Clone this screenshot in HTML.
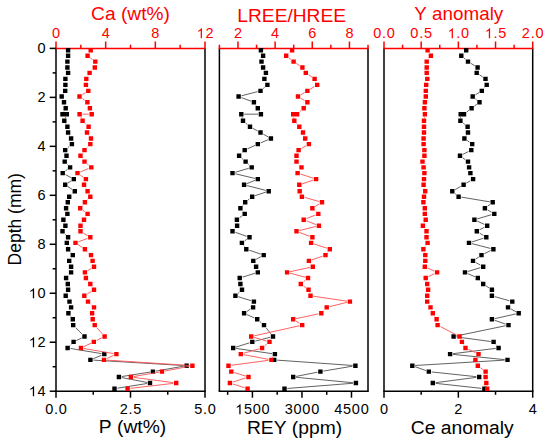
<!DOCTYPE html>
<html><head><meta charset="utf-8"><style>
html,body{margin:0;padding:0;background:#fff;width:550px;height:446px;overflow:hidden;}
svg{display:block;font-family:"Liberation Sans", sans-serif;}
</style></head><body>
<svg width="550" height="446" viewBox="0 0 550 446" font-family="Liberation Sans, sans-serif">
<rect width="550" height="446" fill="#ffffff"/>
<line x1="56.0" y1="48.4" x2="56.0" y2="391.2" stroke="#000000" stroke-width="1.5"/>
<line x1="205.0" y1="48.4" x2="205.0" y2="391.2" stroke="#000000" stroke-width="1.5"/>
<line x1="55.25" y1="391.2" x2="205.75" y2="391.2" stroke="#000000" stroke-width="1.5"/>
<line x1="55.25" y1="48.4" x2="205.75" y2="48.4" stroke="#ff0000" stroke-width="1.5"/>
<line x1="56.00" y1="48.4" x2="56.00" y2="41.5" stroke="#ff0000" stroke-width="1.5"/>
<line x1="80.83" y1="48.4" x2="80.83" y2="44.699999999999996" stroke="#ff0000" stroke-width="1.5"/>
<line x1="105.67" y1="48.4" x2="105.67" y2="41.5" stroke="#ff0000" stroke-width="1.5"/>
<line x1="130.50" y1="48.4" x2="130.50" y2="44.699999999999996" stroke="#ff0000" stroke-width="1.5"/>
<line x1="155.33" y1="48.4" x2="155.33" y2="41.5" stroke="#ff0000" stroke-width="1.5"/>
<line x1="180.17" y1="48.4" x2="180.17" y2="44.699999999999996" stroke="#ff0000" stroke-width="1.5"/>
<line x1="205.00" y1="48.4" x2="205.00" y2="41.5" stroke="#ff0000" stroke-width="1.5"/>
<line x1="56.00" y1="391.2" x2="56.00" y2="397.7" stroke="#000000" stroke-width="1.5"/>
<line x1="93.25" y1="391.2" x2="93.25" y2="394.8" stroke="#000000" stroke-width="1.5"/>
<line x1="130.50" y1="391.2" x2="130.50" y2="397.7" stroke="#000000" stroke-width="1.5"/>
<line x1="167.75" y1="391.2" x2="167.75" y2="394.8" stroke="#000000" stroke-width="1.5"/>
<line x1="205.00" y1="391.2" x2="205.00" y2="397.7" stroke="#000000" stroke-width="1.5"/>
<text x="51.97" y="38.30" font-size="14.5" fill="#ff0000" >0</text>
<text x="101.63" y="38.30" font-size="14.5" fill="#ff0000" >4</text>
<text x="151.30" y="38.30" font-size="14.5" fill="#ff0000" >8</text>
<path transform="translate(196.56,38.30) scale(0.00708,-0.00680)" d="M763 0L583 0L583 1147Q518 1085 413 1023Q308 961 224 930L224 1104Q375 1175 488 1276Q601 1377 648 1466L763 1466Z" fill="#ff0000"/>
<text x="205.38" y="38.30" font-size="14.5" fill="#ff0000" >2</text>
<text x="45.17 53.99 58.76" y="414.20" font-size="14.5" fill="#000000" >0.0</text>
<text x="119.67 128.49 133.26" y="414.20" font-size="14.5" fill="#000000" >2.5</text>
<text x="194.17 202.99 207.76" y="414.20" font-size="14.5" fill="#000000" >5.0</text>
<text transform="scale(1.065,1)" x="85.53 98.53 113.54 119.54 132.54 137.54 153.54" y="20.20" font-size="18" fill="#ff0000" >Ca(wt%)</text>
<text transform="scale(1.07,1)" x="92.33 109.34 115.33 128.33 133.33 149.34" y="432.60" font-size="18" fill="#000000" >P(wt%)</text>
<line x1="56.0" y1="48.40" x2="49.7" y2="48.40" stroke="#000000" stroke-width="1.5"/>
<text x="37.54" y="53.40" font-size="14.5" fill="#000000" >0</text>
<line x1="56.0" y1="72.89" x2="52.6" y2="72.89" stroke="#000000" stroke-width="1.5"/>
<line x1="56.0" y1="97.37" x2="49.7" y2="97.37" stroke="#000000" stroke-width="1.5"/>
<text x="37.54" y="102.37" font-size="14.5" fill="#000000" >2</text>
<line x1="56.0" y1="121.86" x2="52.6" y2="121.86" stroke="#000000" stroke-width="1.5"/>
<line x1="56.0" y1="146.34" x2="49.7" y2="146.34" stroke="#000000" stroke-width="1.5"/>
<text x="37.54" y="151.34" font-size="14.5" fill="#000000" >4</text>
<line x1="56.0" y1="170.83" x2="52.6" y2="170.83" stroke="#000000" stroke-width="1.5"/>
<line x1="56.0" y1="195.31" x2="49.7" y2="195.31" stroke="#000000" stroke-width="1.5"/>
<text x="37.54" y="200.31" font-size="14.5" fill="#000000" >6</text>
<line x1="56.0" y1="219.80" x2="52.6" y2="219.80" stroke="#000000" stroke-width="1.5"/>
<line x1="56.0" y1="244.29" x2="49.7" y2="244.29" stroke="#000000" stroke-width="1.5"/>
<text x="37.54" y="249.29" font-size="14.5" fill="#000000" >8</text>
<line x1="56.0" y1="268.77" x2="52.6" y2="268.77" stroke="#000000" stroke-width="1.5"/>
<line x1="56.0" y1="293.26" x2="49.7" y2="293.26" stroke="#000000" stroke-width="1.5"/>
<path transform="translate(28.72,298.26) scale(0.00708,-0.00680)" d="M763 0L583 0L583 1147Q518 1085 413 1023Q308 961 224 930L224 1104Q375 1175 488 1276Q601 1377 648 1466L763 1466Z" fill="#000000"/>
<text x="37.54" y="298.26" font-size="14.5" fill="#000000" >0</text>
<line x1="56.0" y1="317.74" x2="52.6" y2="317.74" stroke="#000000" stroke-width="1.5"/>
<line x1="56.0" y1="342.23" x2="49.7" y2="342.23" stroke="#000000" stroke-width="1.5"/>
<path transform="translate(28.72,347.23) scale(0.00708,-0.00680)" d="M763 0L583 0L583 1147Q518 1085 413 1023Q308 961 224 930L224 1104Q375 1175 488 1276Q601 1377 648 1466L763 1466Z" fill="#000000"/>
<text x="37.54" y="347.23" font-size="14.5" fill="#000000" >2</text>
<line x1="56.0" y1="366.71" x2="52.6" y2="366.71" stroke="#000000" stroke-width="1.5"/>
<line x1="56.0" y1="391.20" x2="49.7" y2="391.20" stroke="#000000" stroke-width="1.5"/>
<path transform="translate(28.72,396.20) scale(0.00708,-0.00680)" d="M763 0L583 0L583 1147Q518 1085 413 1023Q308 961 224 930L224 1104Q375 1175 488 1276Q601 1377 648 1466L763 1466Z" fill="#000000"/>
<text x="37.54" y="396.20" font-size="14.5" fill="#000000" >4</text>
<text transform="translate(21.2,219.3) rotate(-90) scale(1,1.07)" text-anchor="middle" font-size="17.5" fill="#000000">Depth (mm)</text>
<line x1="219.4" y1="48.4" x2="219.4" y2="391.2" stroke="#000000" stroke-width="1.5"/>
<line x1="368.0" y1="48.4" x2="368.0" y2="391.2" stroke="#000000" stroke-width="1.5"/>
<line x1="218.65" y1="391.2" x2="368.75" y2="391.2" stroke="#000000" stroke-width="1.5"/>
<line x1="218.65" y1="48.4" x2="368.75" y2="48.4" stroke="#ff0000" stroke-width="1.5"/>
<line x1="219.40" y1="48.4" x2="219.40" y2="44.699999999999996" stroke="#ff0000" stroke-width="1.5"/>
<line x1="237.97" y1="48.4" x2="237.97" y2="41.5" stroke="#ff0000" stroke-width="1.5"/>
<line x1="256.55" y1="48.4" x2="256.55" y2="44.699999999999996" stroke="#ff0000" stroke-width="1.5"/>
<line x1="275.12" y1="48.4" x2="275.12" y2="41.5" stroke="#ff0000" stroke-width="1.5"/>
<line x1="293.70" y1="48.4" x2="293.70" y2="44.699999999999996" stroke="#ff0000" stroke-width="1.5"/>
<line x1="312.27" y1="48.4" x2="312.27" y2="41.5" stroke="#ff0000" stroke-width="1.5"/>
<line x1="330.85" y1="48.4" x2="330.85" y2="44.699999999999996" stroke="#ff0000" stroke-width="1.5"/>
<line x1="349.43" y1="48.4" x2="349.43" y2="41.5" stroke="#ff0000" stroke-width="1.5"/>
<line x1="368.00" y1="48.4" x2="368.00" y2="44.699999999999996" stroke="#ff0000" stroke-width="1.5"/>
<line x1="227.66" y1="391.2" x2="227.66" y2="394.8" stroke="#000000" stroke-width="1.5"/>
<line x1="252.42" y1="391.2" x2="252.42" y2="397.7" stroke="#000000" stroke-width="1.5"/>
<line x1="277.19" y1="391.2" x2="277.19" y2="394.8" stroke="#000000" stroke-width="1.5"/>
<line x1="301.96" y1="391.2" x2="301.96" y2="397.7" stroke="#000000" stroke-width="1.5"/>
<line x1="326.72" y1="391.2" x2="326.72" y2="394.8" stroke="#000000" stroke-width="1.5"/>
<line x1="351.49" y1="391.2" x2="351.49" y2="397.7" stroke="#000000" stroke-width="1.5"/>
<text x="233.94" y="38.30" font-size="14.5" fill="#ff0000" >2</text>
<text x="271.09" y="38.30" font-size="14.5" fill="#ff0000" >4</text>
<text x="308.24" y="38.30" font-size="14.5" fill="#ff0000" >6</text>
<text x="345.39" y="38.30" font-size="14.5" fill="#ff0000" >8</text>
<path transform="translate(235.17,414.20) scale(0.00708,-0.00680)" d="M763 0L583 0L583 1147Q518 1085 413 1023Q308 961 224 930L224 1104Q375 1175 488 1276Q601 1377 648 1466L763 1466Z" fill="#000000"/>
<text x="243.98 252.80 261.61" y="414.20" font-size="14.5" fill="#000000" >500</text>
<text x="284.70 293.52 302.33 311.14" y="414.20" font-size="14.5" fill="#000000" >3000</text>
<text x="334.24 343.05 351.86 360.68" y="414.20" font-size="14.5" fill="#000000" >4500</text>
<text transform="scale(1.065,1)" x="222.88 232.89 245.89 257.90 269.90 274.90 287.90 300.90 312.91" y="21.80" font-size="18" fill="#ff0000" >LREE/HREE</text>
<text transform="scale(1.07,1)" x="230.73 243.72 255.73 272.74 278.73 288.74 298.75 313.75" y="434.00" font-size="18" fill="#000000" >REY(ppm)</text>
<line x1="384.0" y1="48.4" x2="384.0" y2="391.2" stroke="#000000" stroke-width="1.5"/>
<line x1="532.7" y1="48.4" x2="532.7" y2="391.2" stroke="#000000" stroke-width="1.5"/>
<line x1="383.25" y1="391.2" x2="533.45" y2="391.2" stroke="#000000" stroke-width="1.5"/>
<line x1="383.25" y1="48.4" x2="533.45" y2="48.4" stroke="#ff0000" stroke-width="1.5"/>
<line x1="384.00" y1="48.4" x2="384.00" y2="41.5" stroke="#ff0000" stroke-width="1.5"/>
<line x1="402.59" y1="48.4" x2="402.59" y2="44.699999999999996" stroke="#ff0000" stroke-width="1.5"/>
<line x1="421.18" y1="48.4" x2="421.18" y2="41.5" stroke="#ff0000" stroke-width="1.5"/>
<line x1="439.76" y1="48.4" x2="439.76" y2="44.699999999999996" stroke="#ff0000" stroke-width="1.5"/>
<line x1="458.35" y1="48.4" x2="458.35" y2="41.5" stroke="#ff0000" stroke-width="1.5"/>
<line x1="476.94" y1="48.4" x2="476.94" y2="44.699999999999996" stroke="#ff0000" stroke-width="1.5"/>
<line x1="495.53" y1="48.4" x2="495.53" y2="41.5" stroke="#ff0000" stroke-width="1.5"/>
<line x1="514.11" y1="48.4" x2="514.11" y2="44.699999999999996" stroke="#ff0000" stroke-width="1.5"/>
<line x1="532.70" y1="48.4" x2="532.70" y2="41.5" stroke="#ff0000" stroke-width="1.5"/>
<line x1="384.00" y1="391.2" x2="384.00" y2="397.7" stroke="#000000" stroke-width="1.5"/>
<line x1="421.18" y1="391.2" x2="421.18" y2="394.8" stroke="#000000" stroke-width="1.5"/>
<line x1="458.35" y1="391.2" x2="458.35" y2="397.7" stroke="#000000" stroke-width="1.5"/>
<line x1="495.53" y1="391.2" x2="495.53" y2="394.8" stroke="#000000" stroke-width="1.5"/>
<line x1="532.70" y1="391.2" x2="532.70" y2="397.7" stroke="#000000" stroke-width="1.5"/>
<text x="373.17 381.99 386.76" y="38.30" font-size="14.5" fill="#ff0000" >0.0</text>
<text x="410.35 419.16 423.94" y="38.30" font-size="14.5" fill="#ff0000" >0.5</text>
<path transform="translate(447.52,38.30) scale(0.00708,-0.00680)" d="M763 0L583 0L583 1147Q518 1085 413 1023Q308 961 224 930L224 1104Q375 1175 488 1276Q601 1377 648 1466L763 1466Z" fill="#ff0000"/>
<text x="456.34 461.11" y="38.30" font-size="14.5" fill="#ff0000" >.0</text>
<path transform="translate(484.70,38.30) scale(0.00708,-0.00680)" d="M763 0L583 0L583 1147Q518 1085 413 1023Q308 961 224 930L224 1104Q375 1175 488 1276Q601 1377 648 1466L763 1466Z" fill="#ff0000"/>
<text x="493.51 498.29" y="38.30" font-size="14.5" fill="#ff0000" >.5</text>
<text x="521.87 530.69 535.46" y="38.30" font-size="14.5" fill="#ff0000" >2.0</text>
<text x="379.97" y="414.20" font-size="14.5" fill="#000000" >0</text>
<text x="454.32" y="414.20" font-size="14.5" fill="#000000" >2</text>
<text x="528.67" y="414.20" font-size="14.5" fill="#000000" >4</text>
<text transform="scale(1.045,1)" x="396.52 413.53 423.54 433.55 443.56 458.55 468.57 472.56" y="20.00" font-size="18" fill="#ff0000" >Yanomaly</text>
<text transform="scale(1.07,1)" x="383.94 396.94 411.95 421.96 431.97 441.98 456.98 466.99 470.99" y="434.20" font-size="18" fill="#000000" >Ceanomaly</text>
<path d="M67.75 58.63L67.75 58.70M67.40 64.50L67.40 64.60M66.83 75.71L66.67 76.06M65.40 81.80L65.40 82.00M65.30 87.80L65.30 87.97M63.47 93.66L63.43 93.74M62.85 99.38L62.85 99.38M64.81 105.11L64.89 105.36M64.18 111.05L64.02 111.35M65.71 117.02L65.39 117.88M65.74 123.56L65.96 124.01M69.51 135.33L69.69 135.67M69.18 146.56L67.92 147.68M65.61 158.70L65.59 158.76M67.24 164.34L67.56 164.69M67.35 169.52L65.45 170.98M65.52 174.63L70.98 177.60M71.02 180.98L67.98 182.99M67.98 186.67L72.02 189.33M72.10 193.82L71.90 194.02M66.98 205.21L66.92 205.39M65.51 216.65L65.29 216.95M64.35 222.60L64.45 222.87M65.02 234.01L65.58 234.62M67.40 245.79L67.50 246.28M70.27 251.92L70.63 252.38M71.06 257.93L70.94 258.11M70.13 263.77L70.17 263.87M68.67 275.12L68.53 275.28M66.92 280.87L66.98 281.09M67.95 286.87L67.95 286.93M66.95 292.68L66.85 292.95M67.52 298.59L67.68 298.81M70.30 304.47L70.30 304.49M69.80 310.20L69.70 310.43M70.42 316.03L70.78 316.53M73.00 322.20L73.00 322.23M75.87 327.83L81.83 333.84M81.67 337.93L76.43 340.51M70.95 344.60L70.25 345.30M70.49 348.48L101.41 353.59M101.46 355.27L93.24 358.73M93.30 360.11L183.70 365.49M183.71 366.18L155.79 371.12M150.01 372.09L121.79 376.54M121.79 377.56L147.11 382.47M147.11 383.49L117.39 388.21" fill="none" stroke="#505050" stroke-width="0.9"/>
<path d="M65.9 48.0h4.4v4.4h-4.4zM65.9 53.5h4.4v4.4h-4.4zM65.2 59.4h4.4v4.4h-4.4zM65.2 65.3h4.4v4.4h-4.4zM65.9 70.7h4.4v4.4h-4.4zM63.2 76.7h4.4v4.4h-4.4zM63.2 82.7h4.4v4.4h-4.4zM63.0 88.7h4.4v4.4h-4.4zM59.5 94.3h4.4v4.4h-4.4zM61.8 100.0h4.4v4.4h-4.4zM63.5 106.0h4.4v4.4h-4.4zM60.3 112.0h4.4v4.4h-4.4zM64.6 112.0h4.4v4.4h-4.4zM62.1 118.5h4.4v4.4h-4.4zM65.2 124.6h4.4v4.4h-4.4zM65.9 130.3h4.4v4.4h-4.4zM68.9 136.3h4.4v4.4h-4.4zM69.7 141.9h4.4v4.4h-4.4zM63.0 147.9h4.4v4.4h-4.4zM64.3 153.6h4.4v4.4h-4.4zM62.5 159.4h4.4v4.4h-4.4zM67.9 165.2h4.4v4.4h-4.4zM60.5 170.9h4.4v4.4h-4.4zM71.6 176.9h4.4v4.4h-4.4zM63.0 182.6h4.4v4.4h-4.4zM72.6 189.0h4.4v4.4h-4.4zM67.0 194.5h4.4v4.4h-4.4zM65.6 200.1h4.4v4.4h-4.4zM63.9 206.1h4.4v4.4h-4.4zM65.2 211.7h4.4v4.4h-4.4zM61.2 217.5h4.4v4.4h-4.4zM63.2 223.5h4.4v4.4h-4.4zM60.3 229.1h4.4v4.4h-4.4zM65.9 235.1h4.4v4.4h-4.4zM64.6 240.7h4.4v4.4h-4.4zM65.9 247.0h4.4v4.4h-4.4zM70.6 252.9h4.4v4.4h-4.4zM67.0 258.7h4.4v4.4h-4.4zM68.9 264.5h4.4v4.4h-4.4zM68.9 270.2h4.4v4.4h-4.4zM63.9 275.8h4.4v4.4h-4.4zM65.6 281.8h4.4v4.4h-4.4zM65.9 287.6h4.4v4.4h-4.4zM63.5 293.6h4.4v4.4h-4.4zM67.3 299.4h4.4v4.4h-4.4zM68.9 305.2h4.4v4.4h-4.4zM66.2 311.1h4.4v4.4h-4.4zM70.6 317.1h4.4v4.4h-4.4zM71.0 322.9h4.4v4.4h-4.4zM82.3 334.3h4.4v4.4h-4.4zM71.4 339.7h4.4v4.4h-4.4zM65.4 345.8h4.4v4.4h-4.4zM102.1 351.9h4.4v4.4h-4.4zM88.2 357.7h4.4v4.4h-4.4zM184.4 363.5h4.4v4.4h-4.4zM150.7 369.4h4.4v4.4h-4.4zM116.7 374.8h4.4v4.4h-4.4zM147.8 380.8h4.4v4.4h-4.4zM112.3 386.5h4.4v4.4h-4.4z" fill="#000000"/>
<path d="M90.36 57.83L92.54 59.50M95.05 64.50L95.05 64.60M88.06 75.68L87.84 76.09M86.11 81.80L86.09 82.00M87.05 87.75L87.15 88.02M85.51 92.66L82.29 94.74M82.27 98.53L84.63 100.24M88.59 105.08L88.71 105.39M90.77 111.10L90.83 111.30M88.80 114.17L82.50 114.17M80.90 117.00L81.30 117.90M85.25 123.43L85.95 124.13M88.85 135.28L89.15 135.72M87.67 146.84L87.13 147.40M82.56 152.87L82.44 153.06M82.41 158.61L82.59 158.86M87.23 163.95L88.57 165.08M88.45 168.58L80.35 171.92M80.27 175.09L83.13 177.14M85.60 187.64L86.00 188.36M87.72 199.37L87.48 199.63M82.72 205.08L82.38 205.52M82.96 210.35L84.84 211.78M85.88 216.66L85.72 216.94M82.36 222.54L82.14 222.93M83.30 233.02L87.50 235.61M87.44 238.41L78.36 241.83M78.28 244.75L82.12 247.31M87.60 251.81L88.30 252.49M91.80 258.01L91.80 258.03M93.29 263.78L93.31 263.85M91.21 268.47L87.69 270.66M87.94 280.76L88.26 281.20M92.06 286.76L92.24 287.04M91.20 291.55L87.10 294.08M86.08 298.59L86.22 298.81M90.70 304.20L91.30 304.77M93.08 310.23L93.02 310.40M92.39 316.16L92.41 316.40M93.68 322.16L93.72 322.27M97.07 327.86L102.23 333.80M101.77 337.94L96.63 340.50M90.97 343.25L83.83 346.65M83.89 348.50L113.51 353.57M113.57 355.41L106.83 358.59M106.90 360.12L189.50 365.48M189.51 366.23L164.89 371.07M159.11 372.13L133.79 376.50M133.79 377.39L173.31 382.65M173.30 383.37L130.50 388.33" fill="none" stroke="#ff5050" stroke-width="0.9"/>
<path d="M88.5 48.0h4.4v4.4h-4.4zM85.4 53.5h4.4v4.4h-4.4zM93.1 59.4h4.4v4.4h-4.4zM92.6 65.3h4.4v4.4h-4.4zM87.4 70.7h4.4v4.4h-4.4zM84.1 76.7h4.4v4.4h-4.4zM83.7 82.7h4.4v4.4h-4.4zM86.1 88.7h4.4v4.4h-4.4zM77.3 94.3h4.4v4.4h-4.4zM85.2 100.0h4.4v4.4h-4.4zM87.7 106.0h4.4v4.4h-4.4zM89.5 112.0h4.4v4.4h-4.4zM77.4 112.0h4.4v4.4h-4.4zM80.4 118.5h4.4v4.4h-4.4zM86.4 124.6h4.4v4.4h-4.4zM84.8 130.3h4.4v4.4h-4.4zM88.8 136.3h4.4v4.4h-4.4zM88.1 141.9h4.4v4.4h-4.4zM82.3 147.9h4.4v4.4h-4.4zM78.3 153.6h4.4v4.4h-4.4zM82.3 159.4h4.4v4.4h-4.4zM89.1 165.2h4.4v4.4h-4.4zM75.3 170.9h4.4v4.4h-4.4zM83.7 176.9h4.4v4.4h-4.4zM81.8 182.6h4.4v4.4h-4.4zM85.4 189.0h4.4v4.4h-4.4zM88.1 194.5h4.4v4.4h-4.4zM82.7 200.1h4.4v4.4h-4.4zM78.0 206.1h4.4v4.4h-4.4zM85.4 211.7h4.4v4.4h-4.4zM81.8 217.5h4.4v4.4h-4.4zM78.3 223.5h4.4v4.4h-4.4zM78.3 229.1h4.4v4.4h-4.4zM88.1 235.1h4.4v4.4h-4.4zM73.3 240.7h4.4v4.4h-4.4zM82.7 247.0h4.4v4.4h-4.4zM88.8 252.9h4.4v4.4h-4.4zM90.4 258.7h4.4v4.4h-4.4zM91.8 264.5h4.4v4.4h-4.4zM82.7 270.2h4.4v4.4h-4.4zM83.7 275.8h4.4v4.4h-4.4zM88.1 281.8h4.4v4.4h-4.4zM91.8 287.6h4.4v4.4h-4.4zM82.1 293.6h4.4v4.4h-4.4zM85.8 299.4h4.4v4.4h-4.4zM91.8 305.2h4.4v4.4h-4.4zM89.9 311.1h4.4v4.4h-4.4zM90.5 317.1h4.4v4.4h-4.4zM92.5 322.9h4.4v4.4h-4.4zM102.4 334.3h4.4v4.4h-4.4zM91.6 339.7h4.4v4.4h-4.4zM78.8 345.8h4.4v4.4h-4.4zM114.2 351.9h4.4v4.4h-4.4zM101.8 357.7h4.4v4.4h-4.4zM190.2 363.5h4.4v4.4h-4.4zM159.8 369.4h4.4v4.4h-4.4zM128.7 374.8h4.4v4.4h-4.4zM174.0 380.8h4.4v4.4h-4.4zM125.4 386.5h4.4v4.4h-4.4z" fill="#ff0000"/>
<path d="M262.32 58.61L262.28 58.72M262.28 64.48L262.32 64.62M265.18 75.75L265.12 76.02M265.81 81.73L265.99 82.07M264.67 87.26L263.23 88.51M257.62 91.61L241.48 95.79M241.46 97.60L251.04 101.17M255.71 105.02L255.99 105.45M259.27 111.05L259.43 111.35M258.00 114.17L244.20 114.17M242.04 117.04L242.26 117.86M245.73 123.11L247.27 124.46M252.82 128.35L257.68 130.98M263.31 134.12L268.09 136.88M268.06 139.72L260.64 142.91M254.96 145.43L247.54 148.81M242.06 152.80L241.74 153.13M241.82 158.26L242.88 159.20M248.31 164.19L248.99 164.84M248.83 168.25L235.37 172.25M235.38 173.79L254.92 178.45M254.95 180.32L246.95 183.65M246.98 185.57L265.82 190.43M265.84 192.12L255.06 195.71M249.46 198.89L247.94 200.11M242.98 205.08L242.62 205.52M242.52 211.02L242.58 211.11M241.94 215.94L239.66 217.66M237.00 222.63L237.00 222.83M234.84 228.47L234.76 228.56M235.36 232.31L246.64 236.32M246.74 239.36L244.66 240.87M243.85 245.67L244.35 246.39M249.16 250.15L260.84 254.15M260.89 256.69L256.11 259.34M254.66 263.73L254.74 263.90M254.93 273.29L242.57 277.11M240.04 280.90L240.06 281.07M241.18 286.84L241.22 286.96M239.28 292.29L238.12 293.34M238.27 296.70L251.03 300.70M250.31 309.19L246.89 311.44M246.94 314.57L254.36 317.99M259.93 321.64L261.27 322.79M266.17 327.88L270.83 333.78M270.12 337.28L255.18 341.15M249.43 342.82L236.07 347.08M236.09 348.42L272.01 353.65M274.55 356.96L274.55 357.04M277.10 360.14L352.50 365.46M352.51 366.16L323.29 371.14M317.51 372.20L296.09 376.43M296.10 377.28L353.00 382.75M353.00 383.26L287.40 388.44" fill="none" stroke="#505050" stroke-width="0.9"/>
<path d="M258.7 48.0h4.4v4.4h-4.4zM260.9 53.5h4.4v4.4h-4.4zM259.3 59.4h4.4v4.4h-4.4zM260.9 65.3h4.4v4.4h-4.4zM263.7 70.7h4.4v4.4h-4.4zM262.2 76.7h4.4v4.4h-4.4zM265.2 82.7h4.4v4.4h-4.4zM258.3 88.7h4.4v4.4h-4.4zM236.4 94.3h4.4v4.4h-4.4zM251.7 100.0h4.4v4.4h-4.4zM255.6 106.0h4.4v4.4h-4.4zM258.7 112.0h4.4v4.4h-4.4zM239.1 112.0h4.4v4.4h-4.4zM240.8 118.5h4.4v4.4h-4.4zM247.8 124.6h4.4v4.4h-4.4zM258.3 130.3h4.4v4.4h-4.4zM268.7 136.3h4.4v4.4h-4.4zM255.6 141.9h4.4v4.4h-4.4zM242.5 147.9h4.4v4.4h-4.4zM236.9 153.6h4.4v4.4h-4.4zM243.4 159.4h4.4v4.4h-4.4zM249.5 165.2h4.4v4.4h-4.4zM230.3 170.9h4.4v4.4h-4.4zM255.6 176.9h4.4v4.4h-4.4zM241.9 182.6h4.4v4.4h-4.4zM266.5 189.0h4.4v4.4h-4.4zM250.0 194.5h4.4v4.4h-4.4zM243.0 200.1h4.4v4.4h-4.4zM238.2 206.1h4.4v4.4h-4.4zM242.5 211.7h4.4v4.4h-4.4zM234.7 217.5h4.4v4.4h-4.4zM234.9 223.5h4.4v4.4h-4.4zM230.3 229.1h4.4v4.4h-4.4zM247.3 235.1h4.4v4.4h-4.4zM239.7 240.7h4.4v4.4h-4.4zM244.1 247.0h4.4v4.4h-4.4zM261.5 252.9h4.4v4.4h-4.4zM251.1 258.7h4.4v4.4h-4.4zM253.9 264.5h4.4v4.4h-4.4zM255.6 270.2h4.4v4.4h-4.4zM237.5 275.8h4.4v4.4h-4.4zM238.2 281.8h4.4v4.4h-4.4zM239.8 287.6h4.4v4.4h-4.4zM233.2 293.6h4.4v4.4h-4.4zM251.7 299.4h4.4v4.4h-4.4zM250.9 305.2h4.4v4.4h-4.4zM241.9 311.1h4.4v4.4h-4.4zM255.0 317.1h4.4v4.4h-4.4zM261.8 322.9h4.4v4.4h-4.4zM270.8 334.3h4.4v4.4h-4.4zM250.1 339.7h4.4v4.4h-4.4zM231.0 345.8h4.4v4.4h-4.4zM272.7 351.9h4.4v4.4h-4.4zM272.0 357.7h4.4v4.4h-4.4zM353.2 363.5h4.4v4.4h-4.4zM318.2 369.4h4.4v4.4h-4.4zM291.0 374.8h4.4v4.4h-4.4zM353.7 380.8h4.4v4.4h-4.4zM282.3 386.5h4.4v4.4h-4.4z" fill="#000000"/>
<path d="M289.39 52.74L288.91 53.19M288.95 57.91L290.85 59.42M296.38 63.46L299.62 65.64M308.58 74.77L311.82 77.00M315.83 81.74L315.97 82.06M314.40 86.60L310.20 89.16M304.60 92.55L300.80 94.85M300.80 98.23L304.60 100.54M305.68 105.03L305.42 105.44M300.98 110.68L299.82 111.72M293.68 117.06L293.82 117.84M296.55 123.47L297.05 124.09M301.12 129.62L301.18 129.71M304.05 135.36L304.15 135.64M307.03 141.29L307.07 141.35M306.09 145.76L301.41 148.47M297.55 152.96L297.55 152.98M298.87 164.36L299.13 164.67M299.60 170.18L299.50 170.32M300.47 174.03L313.23 178.20M313.24 180.10L302.16 183.86M299.48 187.73L299.52 188.27M304.77 197.48L319.13 201.52M319.20 204.06L315.20 206.54M315.11 210.84L315.59 211.30M315.45 215.01L306.55 218.59M306.55 220.86L316.05 224.61M316.02 226.45L299.38 230.58M299.35 232.38L309.55 236.25M313.96 243.86L326.94 248.21M327.81 251.93L327.49 252.37M322.64 256.13L311.76 259.91M310.76 263.68L310.94 263.95M309.92 267.37L289.98 271.76M289.98 273.17L305.12 277.23M305.26 280.27L303.54 281.70M303.56 286.07L305.74 287.73M309.46 292.70L309.54 292.94M313.39 296.23L347.01 301.17M347.02 302.32L329.58 306.65M324.21 310.08L323.79 310.55M318.42 313.89L296.08 318.68M295.99 321.11L299.41 323.33M299.32 325.78L254.08 335.89M254.07 337.38L266.63 341.06M266.76 344.16L264.84 345.74M259.23 348.82L243.67 353.25M243.69 354.62L268.51 359.38M268.51 360.32L231.39 365.28M229.83 368.50L229.97 368.80M234.17 372.53L245.63 376.11M245.63 377.93L232.77 382.10M232.77 383.95L244.73 387.75" fill="none" stroke="#ff5050" stroke-width="0.9"/>
<path d="M289.9 48.0h4.4v4.4h-4.4zM284.0 53.5h4.4v4.4h-4.4zM291.4 59.4h4.4v4.4h-4.4zM300.2 65.3h4.4v4.4h-4.4zM303.6 70.7h4.4v4.4h-4.4zM312.4 76.7h4.4v4.4h-4.4zM315.0 82.7h4.4v4.4h-4.4zM305.2 88.7h4.4v4.4h-4.4zM295.8 94.3h4.4v4.4h-4.4zM305.2 100.0h4.4v4.4h-4.4zM301.5 106.0h4.4v4.4h-4.4zM294.9 112.0h4.4v4.4h-4.4zM291.0 112.0h4.4v4.4h-4.4zM292.1 118.5h4.4v4.4h-4.4zM297.1 124.6h4.4v4.4h-4.4zM300.8 130.3h4.4v4.4h-4.4zM303.0 136.3h4.4v4.4h-4.4zM306.7 141.9h4.4v4.4h-4.4zM296.4 147.9h4.4v4.4h-4.4zM294.3 153.6h4.4v4.4h-4.4zM294.3 159.4h4.4v4.4h-4.4zM299.3 165.2h4.4v4.4h-4.4zM295.4 170.9h4.4v4.4h-4.4zM313.9 176.9h4.4v4.4h-4.4zM297.1 182.6h4.4v4.4h-4.4zM297.5 189.0h4.4v4.4h-4.4zM299.7 194.5h4.4v4.4h-4.4zM319.8 200.1h4.4v4.4h-4.4zM310.2 206.1h4.4v4.4h-4.4zM316.1 211.7h4.4v4.4h-4.4zM301.5 217.5h4.4v4.4h-4.4zM316.7 223.5h4.4v4.4h-4.4zM294.3 229.1h4.4v4.4h-4.4zM310.2 235.1h4.4v4.4h-4.4zM308.9 240.7h4.4v4.4h-4.4zM327.6 247.0h4.4v4.4h-4.4zM323.3 252.9h4.4v4.4h-4.4zM306.7 258.7h4.4v4.4h-4.4zM310.6 264.5h4.4v4.4h-4.4zM284.9 270.2h4.4v4.4h-4.4zM305.8 275.8h4.4v4.4h-4.4zM298.6 281.8h4.4v4.4h-4.4zM306.3 287.6h4.4v4.4h-4.4zM308.3 293.6h4.4v4.4h-4.4zM347.7 299.4h4.4v4.4h-4.4zM324.5 305.2h4.4v4.4h-4.4zM319.1 311.1h4.4v4.4h-4.4zM291.0 317.1h4.4v4.4h-4.4zM300.0 322.9h4.4v4.4h-4.4zM249.0 334.3h4.4v4.4h-4.4zM267.3 339.7h4.4v4.4h-4.4zM259.9 345.8h4.4v4.4h-4.4zM238.6 351.9h4.4v4.4h-4.4zM269.2 357.7h4.4v4.4h-4.4zM226.3 363.5h4.4v4.4h-4.4zM229.1 369.4h4.4v4.4h-4.4zM246.3 374.8h4.4v4.4h-4.4zM227.7 380.8h4.4v4.4h-4.4zM245.4 386.5h4.4v4.4h-4.4z" fill="#ff0000"/>
<path d="M463.79 52.92L463.71 53.01M464.03 58.12L465.27 59.21M470.80 63.32L474.80 65.78M479.48 74.77L482.72 77.00M486.08 81.79L486.12 82.01M484.45 87.64L484.05 88.13M479.01 92.61L475.49 94.79M475.44 98.83L476.76 99.94M476.74 104.33L474.36 106.14M468.85 110.38L466.75 112.02M460.57 117.07L460.53 117.83M463.13 123.05L464.87 124.52M466.32 135.30L466.08 135.70M467.17 140.50L469.43 142.13M471.76 147.03L471.74 147.21M468.48 151.53L462.82 154.40M462.77 157.84L465.23 159.63M471.67 175.94L471.83 176.29M470.30 180.81L466.40 183.15M460.79 186.41L455.11 189.59M455.03 193.55L455.87 194.29M461.49 197.15L489.81 201.85M489.94 204.43L487.66 206.17M487.70 209.94L491.50 212.20M491.43 214.71L477.27 218.89M477.23 221.06L484.37 224.40M484.38 227.24L479.62 229.79M479.59 233.07L483.51 235.56M483.43 238.26L471.87 241.98M471.88 243.64L490.52 248.43M490.57 250.58L484.33 253.72M478.72 257.02L475.78 259.01M475.81 262.51L480.39 265.13M480.33 267.63L467.87 271.51M467.84 273.64L474.96 276.76M480.26 280.72L480.74 281.25M485.98 285.84L489.12 287.96M491.90 292.73L491.90 292.90M494.77 296.62L509.43 300.78M510.24 304.36L510.06 304.61M510.81 308.92L515.89 311.72M515.82 313.92L494.78 318.65M494.76 320.31L505.64 324.13M505.61 325.73L456.49 335.93M456.49 336.92L490.71 341.51M495.85 344.64L496.35 345.26M495.71 348.36L452.99 353.70M453.00 354.36L504.60 359.64M504.60 360.11L415.20 365.49M415.16 366.70L425.94 370.60M431.70 371.94L476.30 376.69M476.31 377.38L435.69 382.66M435.70 383.35L481.50 388.35" fill="none" stroke="#505050" stroke-width="0.9"/>
<path d="M464.0 48.0h4.4v4.4h-4.4zM459.1 53.5h4.4v4.4h-4.4zM465.8 59.4h4.4v4.4h-4.4zM475.4 65.3h4.4v4.4h-4.4zM474.5 70.7h4.4v4.4h-4.4zM483.3 76.7h4.4v4.4h-4.4zM484.5 82.7h4.4v4.4h-4.4zM479.6 88.7h4.4v4.4h-4.4zM470.5 94.3h4.4v4.4h-4.4zM477.3 100.0h4.4v4.4h-4.4zM469.4 106.0h4.4v4.4h-4.4zM461.8 112.0h4.4v4.4h-4.4zM458.5 112.0h4.4v4.4h-4.4zM458.2 118.5h4.4v4.4h-4.4zM465.4 124.6h4.4v4.4h-4.4zM465.8 130.3h4.4v4.4h-4.4zM462.2 136.3h4.4v4.4h-4.4zM470.0 141.9h4.4v4.4h-4.4zM469.1 147.9h4.4v4.4h-4.4zM457.8 153.6h4.4v4.4h-4.4zM465.8 159.4h4.4v4.4h-4.4zM466.9 165.2h4.4v4.4h-4.4zM468.2 170.9h4.4v4.4h-4.4zM470.9 176.9h4.4v4.4h-4.4zM461.4 182.6h4.4v4.4h-4.4zM450.1 189.0h4.4v4.4h-4.4zM456.4 194.5h4.4v4.4h-4.4zM490.5 200.1h4.4v4.4h-4.4zM482.7 206.1h4.4v4.4h-4.4zM492.1 211.7h4.4v4.4h-4.4zM472.2 217.5h4.4v4.4h-4.4zM485.0 223.5h4.4v4.4h-4.4zM474.6 229.1h4.4v4.4h-4.4zM484.1 235.1h4.4v4.4h-4.4zM466.8 240.7h4.4v4.4h-4.4zM491.2 247.0h4.4v4.4h-4.4zM479.3 252.9h4.4v4.4h-4.4zM470.8 258.7h4.4v4.4h-4.4zM481.0 264.5h4.4v4.4h-4.4zM462.8 270.2h4.4v4.4h-4.4zM475.6 275.8h4.4v4.4h-4.4zM481.0 281.8h4.4v4.4h-4.4zM489.7 287.6h4.4v4.4h-4.4zM489.7 293.6h4.4v4.4h-4.4zM510.1 299.4h4.4v4.4h-4.4zM505.8 305.2h4.4v4.4h-4.4zM516.5 311.1h4.4v4.4h-4.4zM489.7 317.1h4.4v4.4h-4.4zM506.3 322.9h4.4v4.4h-4.4zM451.4 334.3h4.4v4.4h-4.4zM491.4 339.7h4.4v4.4h-4.4zM496.4 345.8h4.4v4.4h-4.4zM447.9 351.9h4.4v4.4h-4.4zM505.3 357.7h4.4v4.4h-4.4zM410.1 363.5h4.4v4.4h-4.4zM426.6 369.4h4.4v4.4h-4.4zM477.0 374.8h4.4v4.4h-4.4zM430.6 380.8h4.4v4.4h-4.4zM482.2 386.5h4.4v4.4h-4.4z" fill="#000000"/>
<path d="M428.92 58.50L428.68 58.83M426.70 64.50L426.70 64.60M426.99 75.76L427.01 76.00M426.77 81.79L426.73 82.01M426.01 87.80L425.99 87.97M424.66 105.13L424.64 105.34M424.64 111.13L424.66 111.27M424.50 117.06L424.40 117.84M424.00 123.63L424.00 123.93M423.81 135.40L423.79 135.60M423.99 147.03L424.01 147.21M423.46 158.70L423.44 158.77M424.21 176.00L424.19 176.23M424.33 187.71L424.47 188.29M424.08 205.21L424.12 205.39M425.24 216.76L425.26 216.84M424.38 222.57L424.22 222.90M426.50 234.20L426.50 234.43M425.74 245.68L425.26 246.39M424.31 252.03L424.39 252.27M425.05 263.80L425.05 263.84M427.64 268.04L434.26 271.09M434.27 273.79L428.53 276.61M426.42 280.88L426.48 281.09M427.64 286.86L427.66 286.94M427.66 292.73L427.64 292.91M427.20 298.70L427.20 298.70M428.81 304.41L428.89 304.56M431.61 310.22L431.69 310.41M434.56 316.06L434.84 316.51M437.10 322.19L437.10 322.24M440.42 326.60L456.78 335.07M463.55 344.70L463.85 345.20M468.33 349.32L475.67 352.74M477.01 356.89L476.89 357.11M476.59 362.78L476.61 362.82M480.56 367.77L482.84 369.53M485.94 379.90L485.96 380.14" fill="none" stroke="#ff5050" stroke-width="0.9"/>
<path d="M425.4 48.0h4.4v4.4h-4.4zM428.7 53.5h4.4v4.4h-4.4zM424.5 59.4h4.4v4.4h-4.4zM424.5 65.3h4.4v4.4h-4.4zM424.5 70.7h4.4v4.4h-4.4zM425.1 76.7h4.4v4.4h-4.4zM424.0 82.7h4.4v4.4h-4.4zM423.6 88.7h4.4v4.4h-4.4zM423.6 94.3h4.4v4.4h-4.4zM422.7 100.0h4.4v4.4h-4.4zM422.2 106.0h4.4v4.4h-4.4zM422.7 112.0h4.4v4.4h-4.4zM422.7 112.0h4.4v4.4h-4.4zM421.8 118.5h4.4v4.4h-4.4zM421.8 124.6h4.4v4.4h-4.4zM421.8 130.3h4.4v4.4h-4.4zM421.4 136.3h4.4v4.4h-4.4zM421.4 141.9h4.4v4.4h-4.4zM422.2 147.9h4.4v4.4h-4.4zM422.2 153.6h4.4v4.4h-4.4zM420.3 159.4h4.4v4.4h-4.4zM421.4 165.2h4.4v4.4h-4.4zM422.2 170.9h4.4v4.4h-4.4zM421.8 176.9h4.4v4.4h-4.4zM421.4 182.6h4.4v4.4h-4.4zM423.0 189.0h4.4v4.4h-4.4zM421.8 194.5h4.4v4.4h-4.4zM421.2 200.1h4.4v4.4h-4.4zM422.6 206.1h4.4v4.4h-4.4zM422.6 211.7h4.4v4.4h-4.4zM423.5 217.5h4.4v4.4h-4.4zM420.7 223.5h4.4v4.4h-4.4zM424.3 229.1h4.4v4.4h-4.4zM424.3 235.1h4.4v4.4h-4.4zM425.4 240.7h4.4v4.4h-4.4zM421.2 247.0h4.4v4.4h-4.4zM423.1 252.9h4.4v4.4h-4.4zM423.1 258.7h4.4v4.4h-4.4zM422.6 264.5h4.4v4.4h-4.4zM434.9 270.2h4.4v4.4h-4.4zM423.5 275.8h4.4v4.4h-4.4zM425.0 281.8h4.4v4.4h-4.4zM425.9 287.6h4.4v4.4h-4.4zM425.0 293.6h4.4v4.4h-4.4zM425.0 299.4h4.4v4.4h-4.4zM428.3 305.2h4.4v4.4h-4.4zM430.6 311.1h4.4v4.4h-4.4zM434.4 317.1h4.4v4.4h-4.4zM435.4 322.9h4.4v4.4h-4.4zM457.4 334.3h4.4v4.4h-4.4zM459.7 339.7h4.4v4.4h-4.4zM463.3 345.8h4.4v4.4h-4.4zM476.3 351.9h4.4v4.4h-4.4zM473.2 357.7h4.4v4.4h-4.4zM475.6 363.5h4.4v4.4h-4.4zM483.4 369.4h4.4v4.4h-4.4zM483.4 374.8h4.4v4.4h-4.4zM484.1 380.8h4.4v4.4h-4.4zM485.0 386.5h4.4v4.4h-4.4z" fill="#ff0000"/>
</svg>
</body></html>
